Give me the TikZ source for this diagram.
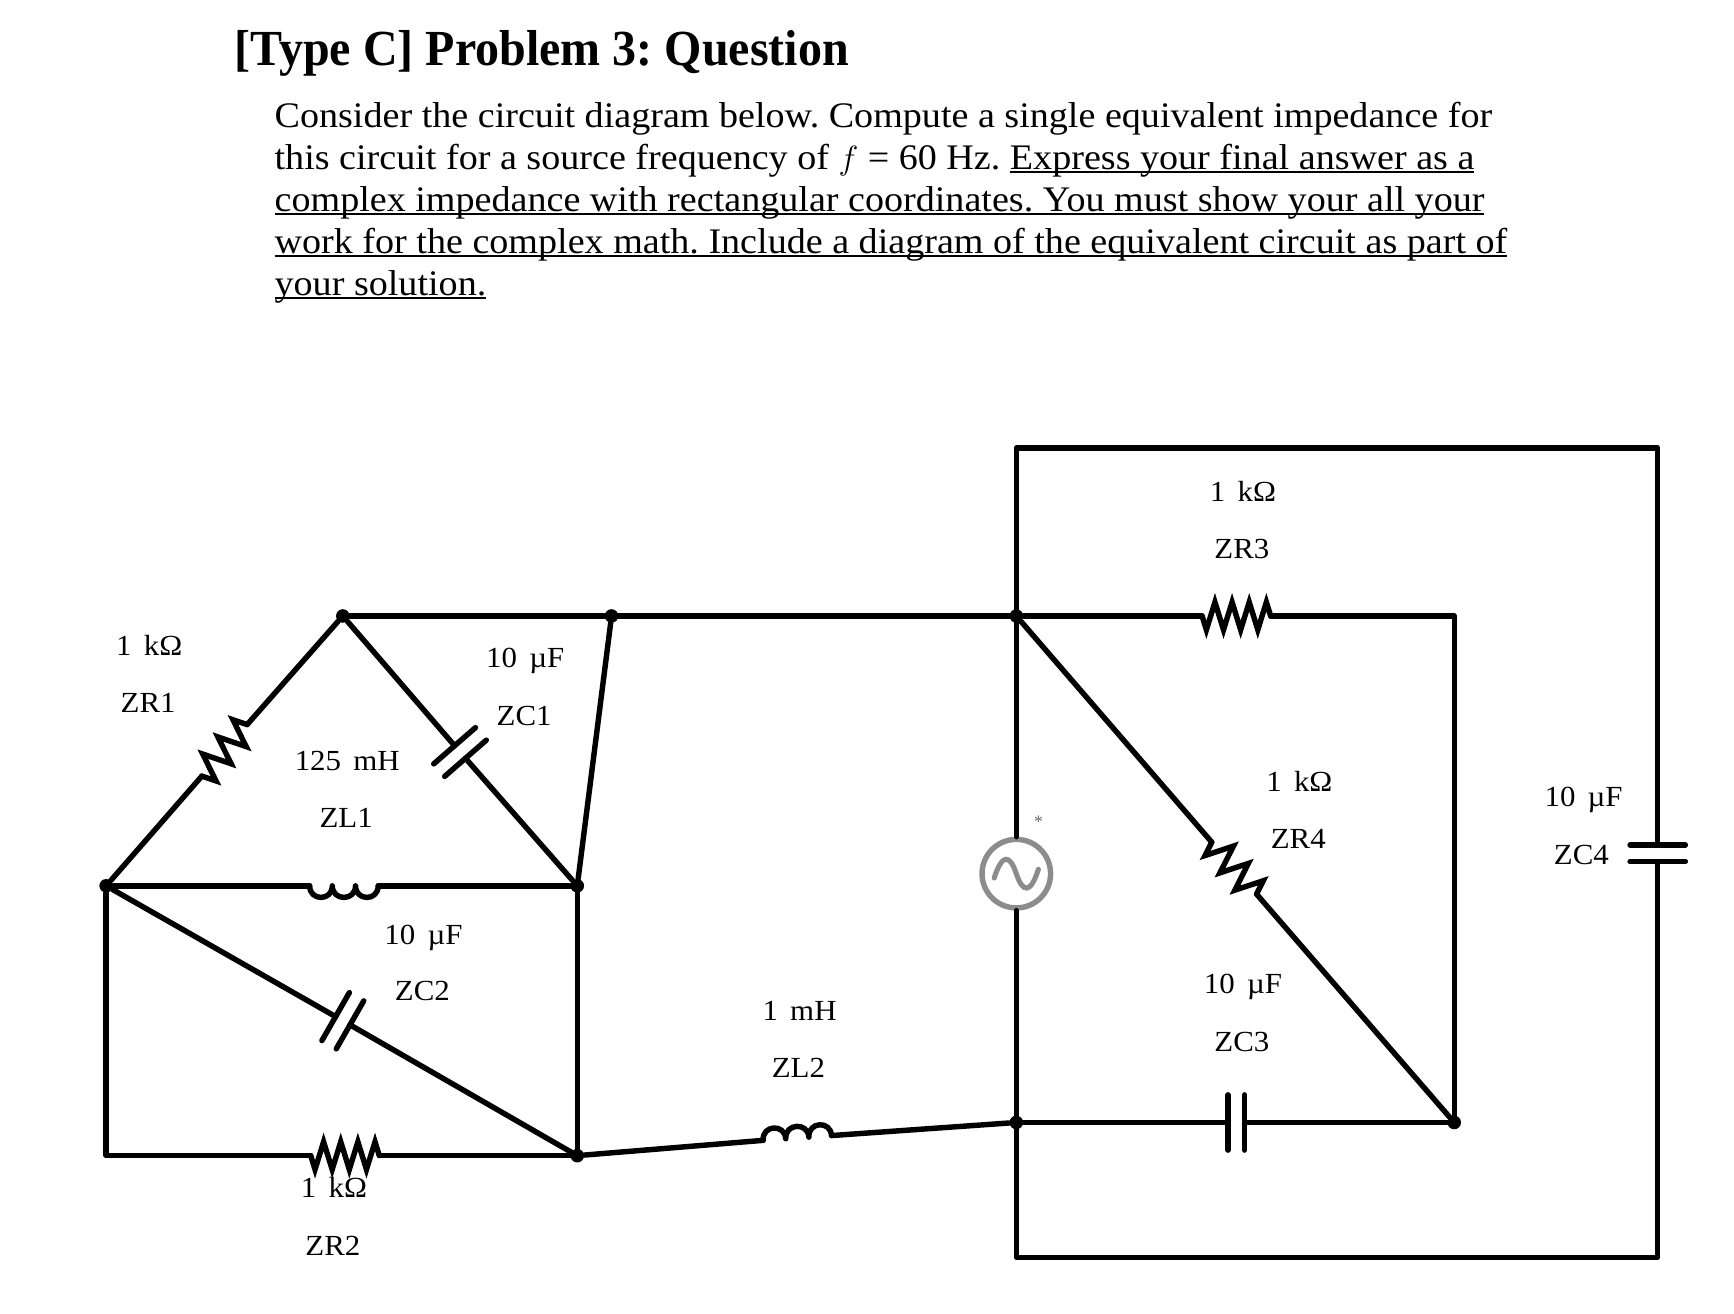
\documentclass[tikz,border=0pt]{standalone}
\usepackage{fontspec}
\setmainfont{Liberation Serif}
\newfontfamily\bodyfont{Liberation Serif}[FakeStretch=1.06]
\newfontfamily\titlefont{Liberation Serif}[FakeStretch=0.95]
\newcommand{\zuline}[1]{\leavevmode\setbox0=\hbox{#1}\rlap{\vrule width \wd0 height -1.1pt depth 2pt}\box0}
\newcommand{\labelfont}{\bodyfont\fontsize{15}{17}\selectfont\spaceskip 0.42em\relax}

\tikzset{
	wire/.style={line width=2.8pt,line cap=round,line join=round},
	junction/.style={circle,fill=black,inner sep=0pt,minimum size=7pt},
	valuelabel/.style={font=\labelfont},
	bodyline/.style={anchor=base west,inner sep=0pt,font=\bodyfont\fontsize{18.5}{22}\selectfont},
}

% zigzag resistor: name, centre, angle, number of peaks
\newcommand{\zresistor}[4]{
	\begin{scope}[shift={(#2)},rotate=#3]
		\def\halfwidth{31}
		\coordinate (#1a) at (-\halfwidth,0);
		\coordinate (#1b) at (\halfwidth,0);
		\pgfmathsetmacro{\zstep}{2*\halfwidth/#4}
		\pgfmathtruncatemacro{\zlast}{#4-1}
		\draw[wire,line join=miter] (#1a) -- ++(0.25*\zstep,12.5)
			\foreach \k in {1,...,\zlast} {
				-- ++(0.5*\zstep,-25) -- ++(0.5*\zstep,25)
			}
			-- ++(0.5*\zstep,-25) -- (#1b);
	\end{scope}
}
% capacitor plates: name, centre, angle
\newcommand{\zcapacitor}[3]{
	\begin{scope}[shift={(#2)},rotate=#3]
		\coordinate (#1a) at (-7.5,0);
		\coordinate (#1b) at (7.5,0);
		\draw[wire] (-7.5,-25) -- (-7.5,25);
		\draw[wire] (7.5,-25) -- (7.5,25);
	\end{scope}
}
% inductor with three bumps: name, centre, angle, bump height
\newcommand{\zinductor}[4]{
	\begin{scope}[shift={(#2)},rotate=#3]
		\coordinate (#1a) at (-31,0);
		\coordinate (#1b) at (31,0);
		\draw[wire] (#1a) .. controls (-31,#4) and (-10.5,#4) .. (-10.5,0)
			.. controls (-10.5,#4) and (10.5,#4) .. (10.5,0)
			.. controls (10.5,#4) and (31,#4) .. (#1b);
	\end{scope}
}

\begin{document}
\frenchspacing
\begin{tikzpicture}[x=0.02cm,y=-0.02cm]
	\useasboundingbox (0,0) rectangle (1568,1188);

	% Question text
	\node[anchor=base west,inner sep=0pt,font=\titlefont\bfseries\fontsize{26}{30}\selectfont] (title) at (212,59) {[Type C] Problem 3: Question};
	\node[bodyline] (line1) at (248,115) {Consider the circuit diagram below. Compute a single equivalent impedance for};
	\node[bodyline] (line2) at (248,153) {this circuit for a source frequency of $f$ = 60 Hz. \zuline{Express your final answer as a}};
	\node[bodyline] (line3) at (248,191) {\zuline{complex impedance with rectangular coordinates. You must show your all your}};
	\node[bodyline] (line4) at (248,229) {\zuline{work for the complex math. Include a diagram of the equivalent circuit as part of}};
	\node[bodyline] (line5) at (248,267) {\zuline{your solution.}};

	% Junctions
	\node[junction] (left) at (96,801) {};
	\node[junction] (apex) at (310,557) {};
	\node[junction] (midright) at (522,801) {};
	\node[junction] (lowright) at (522,1045) {};
	\node[junction] (topjoin) at (553,557) {};
	\node[junction] (srctop) at (919,557) {};
	\node[junction] (srclow) at (919,1015) {};
	\node[junction] (far) at (1315,1015) {};
	\coordinate (lowleft) at (96,1045);
	\coordinate (cornerR) at (1315,557);
	\coordinate (boxTL) at (919,405);
	\coordinate (boxTR) at (1499,405);
	\coordinate (boxBR) at (1499,1137);
	\coordinate (boxBL) at (919,1137);

	% Components
	\zresistor{ZRone}{203,678.5}{48.7}{3}
	\zresistor{ZRtwo}{312,1045}{0}{4}
	\zresistor{ZRthree}{1118,557}{0}{4}
	\zresistor{ZRfour}{1116,785}{-49.2}{3}
	\zcapacitor{ZCone}{416,680}{-49}
	\zcapacitor{ZCtwo}{310,923}{-29.8}
	\zcapacitor{ZCthree}{1118,1015}{0}
	\zcapacitor{ZCfour}{1499,771.5}{-90}
	\zinductor{ZLone}{311,801}{0}{14}
	\zinductor{ZLtwo}{721,1029}{4}{-14}

	% Source
	\node[circle,draw=black!45,line width=2.8pt,minimum size=1.24cm,inner sep=0pt] (src) at (919,790) {};
	\draw[black!45,line width=2.6pt,line cap=round] (899,794) .. controls (906,772) and (913,772) .. (919,790) .. controls (925,808) and (932,808) .. (939,786);
	\node[inner sep=0pt,text=black!60,font=\fontsize{9}{9}\selectfont] (star) at (939,743) {*};

	% Wires left of the source
	\draw[wire] (left) -- (ZRonea);
	\draw[wire] (ZRoneb) -- (apex);
	\draw[wire] (apex) -- (ZConea);
	\draw[wire] (ZConeb) -- (midright);
	\draw[wire] (apex) -- (topjoin) -- (srctop);
	\draw[wire] (topjoin) -- (midright);
	\draw[wire] (left) -- (ZLonea);
	\draw[wire] (ZLoneb) -- (midright);
	\draw[wire] (left) -- (ZCtwoa);
	\draw[wire] (ZCtwob) -- (lowright);
	\draw[wire] (left) -- (lowleft) -- (ZRtwoa);
	\draw[wire] (ZRtwob) -- (lowright);
	\draw[wire] (midright) -- (lowright);
	\draw[wire] (lowright) -- (ZLtwoa);
	\draw[wire] (ZLtwob) -- (srclow);

	% Wires right of the source
	\draw[wire] (srctop) -- (ZRthreea);
	\draw[wire] (ZRthreeb) -- (cornerR) -- (far);
	\draw[wire] (srctop) -- (ZRfoura);
	\draw[wire] (ZRfourb) -- (far);
	\draw[wire] (srclow) -- (ZCthreea);
	\draw[wire] (ZCthreeb) -- (far);
	\draw[wire] (src.north) -- (boxTL) -- (boxTR) -- (ZCfoura);
	\draw[wire] (ZCfourb) -- (boxBR) -- (boxBL) -- (src.south);

	% Value labels
	\node[valuelabel] (ZRoneval) at (135,584) {1 kΩ};
	\node[valuelabel] (ZRonename) at (134,636) {ZR1};
	\node[valuelabel] (ZConeval) at (475,597.5) {10 µF};
	\node[valuelabel] (ZConename) at (474,647) {ZC1};
	\node[valuelabel] (ZLoneval) at (314,688) {125 mH};
	\node[valuelabel] (ZLonename) at (313,740) {ZL1};
	\node[valuelabel] (ZCtwoval) at (383,848.5) {10 µF};
	\node[valuelabel] (ZCtwoname) at (382,896) {ZC2};
	\node[valuelabel] (ZRtwoval) at (302,1074) {1 kΩ};
	\node[valuelabel] (ZRtwoname) at (301,1127) {ZR2};
	\node[valuelabel] (ZLtwoval) at (723,914) {1 mH};
	\node[valuelabel] (ZLtwoname) at (722,966) {ZL2};
	\node[valuelabel] (ZRthreeval) at (1124,444) {1 kΩ};
	\node[valuelabel] (ZRthreename) at (1123,496) {ZR3};
	\node[valuelabel] (ZRfourval) at (1175,707) {1 kΩ};
	\node[valuelabel] (ZRfourname) at (1174,759) {ZR4};
	\node[valuelabel] (ZCthreeval) at (1124,892.5) {10 µF};
	\node[valuelabel] (ZCthreename) at (1123,942) {ZC3};
	\node[valuelabel] (ZCfourval) at (1432,723.5) {10 µF};
	\node[valuelabel] (ZCfourname) at (1430,773) {ZC4};
\end{tikzpicture}
\end{document}
